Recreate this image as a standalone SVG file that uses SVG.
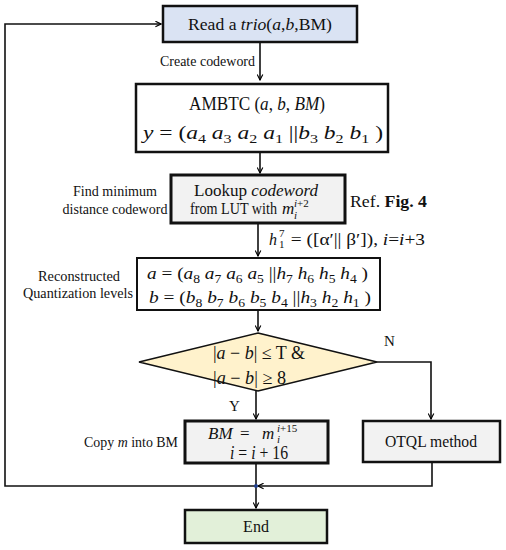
<svg xmlns="http://www.w3.org/2000/svg" width="506" height="550" viewBox="0 0 506 550">
<defs>
<marker id="arr" viewBox="0 0 10 10" refX="9" refY="5" markerWidth="7" markerHeight="7" orient="auto" markerUnits="userSpaceOnUse">
<path d="M1,1 L9,5 L1,9" fill="none" stroke="#000" stroke-width="1.6"/>
</marker>
</defs>
<style>
text{font-family:"Liberation Serif","Times New Roman","DejaVu Serif",serif;fill:#111}
.i{font-style:italic}
.c{fill:none;stroke:#111;stroke-width:1.6}
</style>
<rect width="506" height="550" fill="#fff"/>
<g id="connectors">
<path class="c" d="M260,42 V80" marker-end="url(#arr)"/>
<path class="c" d="M260,152 V173" marker-end="url(#arr)"/>
<path class="c" d="M258,223 V256" marker-end="url(#arr)"/>
<path class="c" d="M258,310 V331" marker-end="url(#arr)"/>
<path class="c" d="M256,391 V419" marker-end="url(#arr)"/>
<path class="c" d="M377,362 H431 V419" marker-end="url(#arr)"/>
<path class="c" d="M432,462 V486 H258" marker-end="url(#arr)"/>
<path class="c" d="M256,463 V508" marker-end="url(#arr)"/>
<path class="c" d="M256,486 H5 V24 H161" marker-end="url(#arr)"/>
<circle cx="256" cy="486" r="2" fill="#1f3f8f"/>
<text x="160" y="66" font-size="14" textLength="95" lengthAdjust="spacingAndGlyphs">Create codeword</text>
<text x="269" y="245" font-size="16"><tspan class="i">h</tspan><tspan x="279" y="237" font-size="11">7</tspan><tspan x="279" y="248" font-size="11">1</tspan><tspan x="286" y="245" textLength="139" lengthAdjust="spacingAndGlyphs"> = ([α′|| β′]), <tspan class="i">i</tspan>=<tspan class="i">i</tspan>+3</tspan></text>
<text x="384" y="346" font-size="15">N</text>
<text x="229" y="411" font-size="15">Y</text>
</g>
<g id="read">
<rect x="163" y="6" width="194" height="36" fill="#dae3f3" stroke="#111" stroke-width="2.5"/>
<text x="188" y="30" font-size="17" textLength="144" lengthAdjust="spacingAndGlyphs">Read a <tspan class="i">trio</tspan>(<tspan class="i">a</tspan>,<tspan class="i">b</tspan>,BM)</text>
</g>
<g id="ambtc">
<rect x="136" y="84" width="252" height="68" fill="#fff" stroke="#111" stroke-width="2.5"/>
<text x="189" y="110" font-size="18" textLength="136" lengthAdjust="spacingAndGlyphs">AMBTC (<tspan class="i">a</tspan>, <tspan class="i">b</tspan>, <tspan class="i">BM</tspan>)</text>
<text x="143" y="139" font-size="19" textLength="240" lengthAdjust="spacingAndGlyphs"><tspan class="i">y</tspan>  =  (<tspan class="i">a</tspan><tspan font-size="13" dy="4">4</tspan><tspan dy="-4"> </tspan><tspan class="i">a</tspan><tspan font-size="13" dy="4">3</tspan><tspan dy="-4"> </tspan><tspan class="i">a</tspan><tspan font-size="13" dy="4">2</tspan><tspan dy="-4"> </tspan><tspan class="i">a</tspan><tspan font-size="13" dy="4">1</tspan><tspan dy="-4"> ||</tspan><tspan class="i">b</tspan><tspan font-size="13" dy="4">3</tspan><tspan dy="-4"> </tspan><tspan class="i">b</tspan><tspan font-size="13" dy="4">2</tspan><tspan dy="-4"> </tspan><tspan class="i">b</tspan><tspan font-size="13" dy="4">1</tspan><tspan dy="-4">  )</tspan></text>
</g>
<g id="lookup">
<rect x="171" y="175" width="174" height="48" fill="#f2f2f2" stroke="#111" stroke-width="3"/>
<text x="194" y="196" font-size="17" textLength="124" lengthAdjust="spacingAndGlyphs">Lookup <tspan class="i">codeword</tspan></text>
<text x="190" y="214" font-size="17" textLength="87" lengthAdjust="spacingAndGlyphs">from LUT with</text>
<text x="282" y="214" font-size="17" class="i">m</text>
<text x="294" y="207" font-size="11"><tspan class="i">i</tspan>+2</text>
<text x="294" y="219" font-size="11" class="i">i</text>
<text x="115" y="196" font-size="14" text-anchor="middle" textLength="84" lengthAdjust="spacingAndGlyphs">Find minimum</text>
<text x="115" y="214" font-size="14" text-anchor="middle" textLength="105" lengthAdjust="spacingAndGlyphs">distance codeword</text>
<text x="350" y="207" font-size="17" textLength="77" lengthAdjust="spacingAndGlyphs">Ref. <tspan font-weight="bold">Fig. 4</tspan></text>
</g>
<g id="recon">
<rect x="137" y="258" width="243" height="52" fill="#fff" stroke="#111" stroke-width="2"/>
<text x="147" y="279" font-size="17" textLength="221" lengthAdjust="spacingAndGlyphs"><tspan class="i">a</tspan>  =  (<tspan class="i">a</tspan><tspan font-size="12" dy="4">8</tspan><tspan dy="-4"> </tspan><tspan class="i">a</tspan><tspan font-size="12" dy="4">7</tspan><tspan dy="-4"> </tspan><tspan class="i">a</tspan><tspan font-size="12" dy="4">6</tspan><tspan dy="-4"> </tspan><tspan class="i">a</tspan><tspan font-size="12" dy="4">5</tspan><tspan dy="-4"> ||</tspan><tspan class="i">h</tspan><tspan font-size="12" dy="4">7</tspan><tspan dy="-4"> </tspan><tspan class="i">h</tspan><tspan font-size="12" dy="4">6</tspan><tspan dy="-4"> </tspan><tspan class="i">h</tspan><tspan font-size="12" dy="4">5</tspan><tspan dy="-4"> </tspan><tspan class="i">h</tspan><tspan font-size="12" dy="4">4</tspan><tspan dy="-4">  )</tspan></text>
<text x="149" y="303" font-size="17" textLength="222" lengthAdjust="spacingAndGlyphs"><tspan class="i">b</tspan>  =  (<tspan class="i">b</tspan><tspan font-size="12" dy="4">8</tspan><tspan dy="-4"> </tspan><tspan class="i">b</tspan><tspan font-size="12" dy="4">7</tspan><tspan dy="-4"> </tspan><tspan class="i">b</tspan><tspan font-size="12" dy="4">6</tspan><tspan dy="-4"> </tspan><tspan class="i">b</tspan><tspan font-size="12" dy="4">5</tspan><tspan dy="-4"> </tspan><tspan class="i">b</tspan><tspan font-size="12" dy="4">4</tspan><tspan dy="-4"> ||</tspan><tspan class="i">h</tspan><tspan font-size="12" dy="4">3</tspan><tspan dy="-4"> </tspan><tspan class="i">h</tspan><tspan font-size="12" dy="4">2</tspan><tspan dy="-4"> </tspan><tspan class="i">h</tspan><tspan font-size="12" dy="4">1</tspan><tspan dy="-4">  )</tspan></text>
<text x="79" y="281" font-size="14" text-anchor="middle" textLength="82" lengthAdjust="spacingAndGlyphs">Reconstructed</text>
<text x="78" y="298" font-size="14" text-anchor="middle" textLength="110" lengthAdjust="spacingAndGlyphs">Quantization levels</text>
</g>
<g id="decision">
<polygon points="258,333 377,362 258,391 139,362" fill="#fff2cc" stroke="#111" stroke-width="1.6"/>
<text x="213" y="359" font-size="18" textLength="92" lengthAdjust="spacingAndGlyphs">|<tspan class="i">a</tspan> − <tspan class="i">b</tspan>| ≤ T &amp;</text>
<text x="213" y="384" font-size="18" textLength="73" lengthAdjust="spacingAndGlyphs">|<tspan class="i">a</tspan> − <tspan class="i">b</tspan>| ≥ 8</text>
</g>
<g id="copy">
<rect x="185" y="421" width="143" height="42" fill="#f2f2f2" stroke="#111" stroke-width="3"/>
<text x="208" y="439" font-size="17"><tspan class="i">BM</tspan><tspan x="240">=</tspan></text>
<text x="262" y="439" font-size="17" class="i">m</text>
<text x="277" y="432" font-size="11"><tspan class="i">i</tspan>+15</text>
<text x="277" y="443" font-size="11" class="i">i</text>
<text x="230" y="459" font-size="18" textLength="58" lengthAdjust="spacingAndGlyphs"><tspan class="i">i</tspan> = <tspan class="i">i</tspan> + 16</text>
<text x="178" y="447" font-size="14" text-anchor="end" textLength="94" lengthAdjust="spacingAndGlyphs">Copy <tspan class="i">m</tspan> into BM</text>
</g>
<g id="otql">
<rect x="363" y="421" width="137" height="41" fill="#f2f2f2" stroke="#111" stroke-width="2.5"/>
<text x="431" y="447" font-size="16" text-anchor="middle" textLength="92" lengthAdjust="spacingAndGlyphs">OTQL method</text>
</g>
<g id="end">
<rect x="185" y="510" width="142" height="33" fill="#e2f0d9" stroke="#111" stroke-width="2.5"/>
<text x="256" y="532" font-size="16" text-anchor="middle">End</text>
</g>
</svg>
